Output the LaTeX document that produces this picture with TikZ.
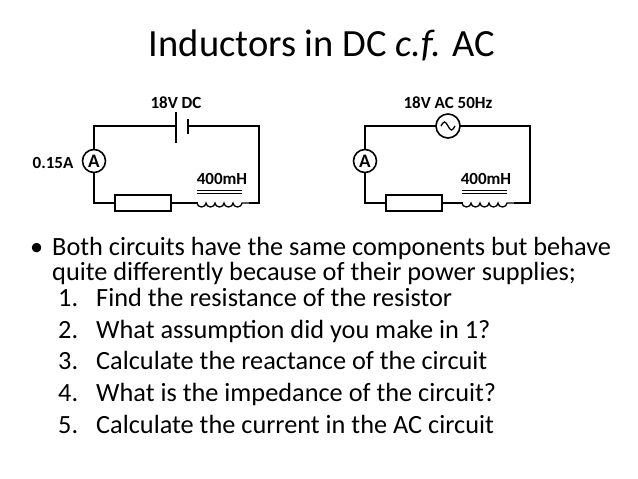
\documentclass[tikz,border=0pt]{standalone}
\usepackage{fontspec}
\setmainfont{Carlito}
\begin{document}
\begin{tikzpicture}[x=1pt,y=-1pt,
  wire/.style={line width=1.6pt,line cap=rect},
  meter/.style={circle,draw,line width=1.6pt,minimum size=23pt,inner sep=0pt,font=\bfseries\fontsize{19}{19}\selectfont,fill=white},
  lbl/.style={font=\bfseries\fontsize{17}{18}\selectfont},
  body/.style={font=\fontsize{26.3}{30}\selectfont,anchor=base west,inner sep=0pt}]
\useasboundingbox (0,0) rectangle (638,479);
\node (title) at (322,45) {\fontsize{38.5}{44}\selectfont Inductors in DC \textit{c.f.} AC};
% left circuit
\coordinate (tl) at (94,126); \coordinate (tr) at (259,126);
\coordinate (bl) at (94,203); \coordinate (br) at (259,203);
\node[meter] (A1) at (94,161) {A};
\draw[wire] (A1) -- (tl) -- (176,126);
\draw[wire] (188,126) -- (tr) -- (br) -- (250,203);
\draw[line width=1.8pt] (176,112) -- (176,143);
\draw[line width=2.6pt] (188,119) -- (188,134);
\node[lbl] (dc) at (176,103) {18V DC};
\draw[wire] (A1) -- (bl) -- (115,203);
\node[draw,line width=1.6pt,minimum width=56pt,minimum height=16pt,inner sep=0pt] (R1) at (143,203) {};
\draw[wire] (R1) -- (197,203);
\draw[line width=1.3pt] (197,203) \foreach \i in {0,...,4}{ arc(180:0:4.5 and 4) } -- (250,203);
\draw[line width=1pt] (197,190) -- (242,190) (197,193) -- (242,193);
\node[lbl] (L1) at (222,179) {400mH};
\node[lbl] (i1) at (53,163) {0.15A};
% right circuit
\node[meter] (A2) at (365,161) {A};
\node[circle,draw,line width=1.6pt,minimum size=24pt,inner sep=0pt] (S) at (448,126) {};
\draw[line width=1.3pt] (441,126) sin (444.5,122) cos (448,126) sin (451.5,130) cos (455,126);
\draw[wire] (A2) -- (365,126) -- (S);
\draw[wire] (S) -- (530,126) -- (530,203) -- (515,203);
\node[lbl] (ac) at (448,103) {18V AC 50Hz};
\draw[wire] (A2) -- (365,203) -- (386,203);
\node[draw,line width=1.6pt,minimum width=56pt,minimum height=16pt,inner sep=0pt] (R2) at (414,203) {};
\draw[wire] (R2) -- (462,203);
\draw[line width=1.3pt] (462,203) \foreach \i in {0,...,4}{ arc(180:0:4.5 and 4) } -- (515,203);
\draw[line width=1pt] (462,190) -- (507,190) (462,193) -- (507,193);
\node[lbl] (L2) at (486,179) {400mH};
% text
\node[body] (b) at (30,255) {•};
\node[body] (t1) at (52,255) {Both circuits have the same components but behave};
\node[body] (t2) at (52,280) {quite differently because of their power supplies;};
\foreach \n/\y/\t in {1/306/Find the resistance of the resistor,
  2/338/What assumption did you make in 1?,
  3/369/Calculate the reactance of the circuit,
  4/401/What is the impedance of the circuit?,
  5/433/Calculate the current in the AC circuit}{
  \node[body] (n\n) at (58,\y) {\n.};
  \node[body] (q\n) at (96,\y) {\t};
}
\end{tikzpicture}
\end{document}
